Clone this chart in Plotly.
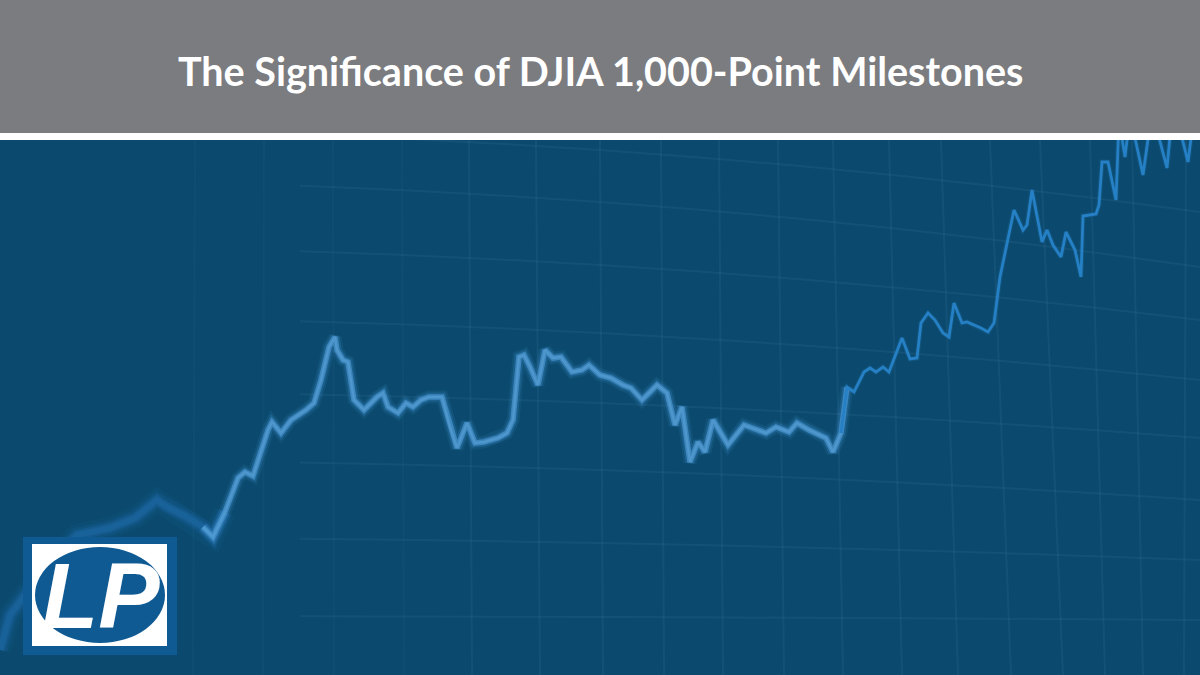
import plotly.graph_objects as go

# ---- data: DJIA-style index path (arbitrary time units, index levels) ----
trading_day = [0, 10, 40, 77, 110, 135, 157, 167, 185, 203, 213, 225, 238, 245, 253, 268, 272, 281, 291, 306,
               314, 321, 329, 335, 337, 343, 348, 354, 364, 377, 383, 388, 398, 406, 413, 421, 429, 442, 450, 457,
               467, 475, 484, 498, 507, 513, 519, 524, 530, 538, 545, 553, 561, 572, 582, 589, 600, 611, 623, 631,
               642, 657, 667, 675, 682, 690, 698, 705, 713, 728, 744, 766, 776, 789, 797, 809, 826, 833, 841, 847,
               854, 864, 870, 876, 883, 889, 902, 910, 917, 921, 928, 935, 943, 949, 954, 962, 967, 981, 988, 994,
               1000, 1008, 1014, 1023, 1027, 1032, 1042, 1047, 1053, 1061, 1066, 1075, 1081, 1083, 1096, 1099, 1102,
               1108, 1116, 1119, 1125, 1130, 1143, 1150, 1157, 1167, 1172, 1180, 1188, 1194, 1200]
index_level = [25, 60, 100, 140, 147, 157, 175, 168, 159, 148, 138, 163, 197, 203, 199, 245, 253, 242, 255, 265,
               272, 295, 328, 338, 325, 315, 313, 275, 265, 278, 282, 268, 262, 272, 268, 275, 278, 278, 248, 227,
               252, 232, 233, 237, 242, 255, 318, 320, 308, 290, 325, 317, 318, 303, 305, 310, 300, 297, 290, 287,
               275, 290, 282, 250, 268, 213, 233, 223, 255, 230, 250, 242, 248, 243, 252, 245, 237, 223, 242, 288,
               283, 303, 307, 303, 308, 303, 337, 316, 317, 352, 362, 355, 342, 338, 372, 352, 353, 347, 343, 352,
               398, 438, 465, 445, 450, 485, 433, 445, 430, 418, 443, 425, 398, 459, 461, 470, 513,
               513, 475, 555, 518, 560, 500, 550, 545, 507, 560, 545, 513, 560, 545]

TITLE = "The Significance of DJIA 1,000-Point Milestones"
LOGO_TEXT = "LP"

# decorative perspective grid (pixel-based, drawn as layout shapes)
grid_v_top = [195, 264, 333, 402, 469, 536, 600, 661, 719, 778, 833, 889, 941, 990, 1040, 1090, 1132, 1186]
grid_v_bot = [193, 263, 334, 404, 472, 540, 603, 664, 723, 784, 843, 902, 958, 1011, 1063, 1105, 1143, 1184]
grid_h_mid = [150, 202, 265, 333, 403, 470, 543, 617]
grid_h_right = [212, 267, 320, 380, 438, 500, 560, 620]

W, H = 1200, 675
BG = "#0b4a6e"

fig = go.Figure()

def seg(a, b):
    return trading_day[a:b], index_level[a:b]

i_mid0 = trading_day.index(203)
i_mid1 = trading_day.index(847) + 1
i_r0 = trading_day.index(841)

# blurred left part
xl, yl = seg(0, i_mid0 + 3)
for w, op in [(22, 0.08), (15, 0.15), (10, 0.25), (6, 0.30)]:
    fig.add_trace(go.Scatter(x=xl, y=yl, mode="lines", line=dict(color="rgb(35,115,185)", width=w),
                             opacity=op, hoverinfo="skip", showlegend=False))

# glowing middle part
xm, ym = seg(i_mid0, i_mid1)
for w, op, c in [(13, 0.10, "rgb(70,150,215)"), (9, 0.22, "rgb(70,150,215)"), (5.5, 0.75, "rgb(72,148,208)"),
                 (2.5, 0.35, "rgb(110,180,230)")]:
    fig.add_trace(go.Scatter(x=xm, y=ym, mode="lines", line=dict(color=c, width=w), opacity=op,
                             hoverinfo="skip", showlegend=False))

# sharp right part
xr, yr = seg(i_r0, len(trading_day))
fig.add_trace(go.Scatter(x=xr, y=yr, mode="lines", line=dict(color="rgb(45,135,205)", width=5), opacity=0.15,
                         hoverinfo="skip", showlegend=False))
fig.add_trace(go.Scatter(x=xr, y=yr, mode="lines", line=dict(color="rgb(38,128,198)", width=2.8),
                         hoverinfo="skip", showlegend=False))

shapes = []
top_lvl = H - 140
for xt, xb in zip(grid_v_top, grid_v_bot):
    a = 0.035 if xt < 450 else 0.07
    shapes.append(dict(type="line", xref="x", yref="y", x0=xt, y0=top_lvl, x1=xb, y1=0,
                       line=dict(color=f"rgba(140,190,230,{a})", width=2), layer="below"))
for ymid, yright in zip(grid_h_mid, grid_h_right):
    d = yright - ymid
    pts = []
    for k in range(3, 13):
        xx = k * 100
        yy = ymid + d * ((xx / 600.0) ** 2 - 1) / 3.0
        pts.append(f"{xx},{H - yy}")
    shapes.append(dict(type="path", xref="x", yref="y", path="M " + " L ".join(pts),
                       line=dict(color="rgba(140,190,230,0.07)", width=2), layer="below"))

def py(p):
    return 1 - p / H

def px(p):
    return p / W

# header
shapes.append(dict(type="rect", xref="paper", yref="paper", x0=0, x1=1, y0=py(133), y1=1,
                   fillcolor="#7b7c7f", line=dict(width=0), layer="above"))
shapes.append(dict(type="rect", xref="paper", yref="paper", x0=0, x1=1, y0=py(140), y1=py(133),
                   fillcolor="#ffffff", line=dict(width=0), layer="above"))
# logo
shapes.append(dict(type="rect", xref="paper", yref="paper", x0=px(23), x1=px(177), y0=py(655), y1=py(537),
                   fillcolor="#105a94", line=dict(width=0), layer="above"))
shapes.append(dict(type="rect", xref="paper", yref="paper", x0=px(32), x1=px(167), y0=py(646), y1=py(544),
                   fillcolor="#ffffff", line=dict(width=0), layer="above"))
shapes.append(dict(type="circle", xref="paper", yref="paper", x0=px(35), x1=px(165), y0=py(643), y1=py(547),
                   fillcolor="#105a94", line=dict(width=0), layer="above"))

annotations = [
    dict(text=f"<b>{TITLE}</b>", xref="paper", yref="paper", x=0.5, y=py(70), showarrow=False,
         font=dict(family="Lato", size=39.5, color="#ffffff"), xanchor="center", yanchor="middle"),
    dict(text=f"<b><i>{LOGO_TEXT}</i></b>", xref="paper", yref="paper", x=px(101), y=py(596), showarrow=False,
         font=dict(family="Liberation Sans", size=92, color="#ffffff"), xanchor="center", yanchor="middle"),
]

fig.update_layout(
    width=W, height=H, margin=dict(l=0, r=0, t=0, b=0),
    paper_bgcolor=BG, plot_bgcolor=BG,
    xaxis=dict(range=[0, 1200], visible=False, fixedrange=True),
    yaxis=dict(range=[0, 675], visible=False, fixedrange=True),
    shapes=shapes, annotations=annotations, showlegend=False,
)

fig.write_html("out.html", config={"displayModeBar": False},
               post_script="document.body.style.margin='0';document.body.style.overflow='hidden';")
